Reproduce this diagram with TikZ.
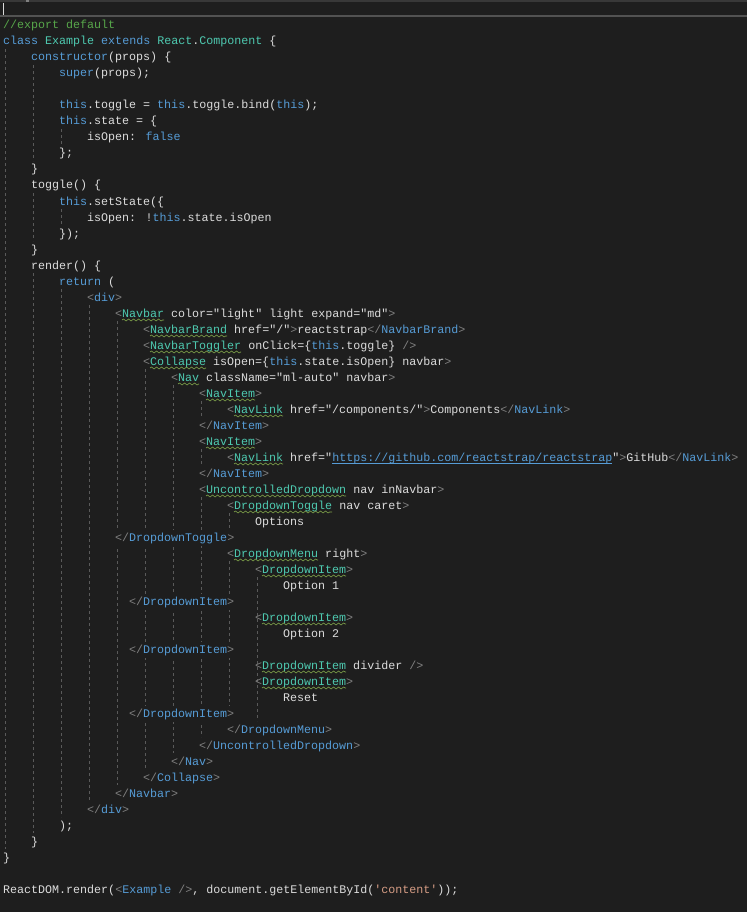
\documentclass[tikz,border=0pt]{standalone}
\usepackage{fontspec}
\newfontfamily\code{Liberation Mono}
\usetikzlibrary{decorations.pathmorphing}
\definecolor{bg}{HTML}{1E1E1E}
\definecolor{fgc}{HTML}{DCDCDC}
\definecolor{kw}{HTML}{569CD6}
\definecolor{ty}{HTML}{4EC9B0}
\definecolor{cm}{HTML}{57A64A}
\definecolor{pu}{HTML}{808080}
\definecolor{st}{HTML}{D69D85}
\definecolor{guide}{HTML}{5A5A5A}
\definecolor{sqc}{HTML}{7FA34A}
\newcommand\K[1]{\textcolor{kw}{#1}}
\newcommand\T[1]{\textcolor{ty}{#1}}
\newcommand\G[1]{\textcolor{pu}{#1}}
\newcommand\Cm[1]{\textcolor{cm}{#1}}
\newcommand\Sq[1]{\textcolor{st}{#1}}
\tikzset{codetext/.style={anchor=base west,inner sep=0pt,text=fgc,font=\code\fontsize{11.67}{16}\selectfont},
 hid/.style={fill=bg,inner ysep=3pt,inner xsep=0pt},
 guideline/.style={draw=guide,line width=0.8pt,dash pattern=on 3pt off 3pt},
 squig/.style={draw=sqc,line width=0.6pt,decorate,decoration={snake,amplitude=1pt,segment length=5pt}}}
\newcommand\cl[5][]{\node[codetext,#1] (#2) at ({3+7*#4},{-29-16*(#3-1)}) {#5};}
\newcommand\sqg[3]{\draw[squig] ({3+7*#2},{-32-16*(#1-1)}) -- ({3+7*(#2+#3)},{-32-16*(#1-1)});}
\newcommand\gd[3]{\draw[guideline] ({5+28*#1},{-17-16*(#2-1)}) -- ({5+28*#1},{-17-16*#3});}
\begin{document}
\begin{tikzpicture}[x=1pt,y=1pt]
\useasboundingbox (0,0) rectangle (747,-912);
\fill[bg] (0,0) rectangle (747,-912);
\fill[black!78] (0,0) rectangle (747,-2.5);
\fill[black!68] (0,-15.5) rectangle (747,-17.5);
\fill[black!50] (26,0) rectangle (29,-2.5);
\draw[white!85!black,line width=0.8pt] (3,-3) -- (3,-15);
% guides
\gd{0}{3}{52}
\gd{1}{4}{9}\gd{1}{12}{14}\gd{1}{17}{51}
\gd{2}{8}{8}\gd{2}{13}{13}\gd{2}{18}{50}
\gd{3}{19}{49}
\gd{4}{20}{48}
\gd{5}{23}{47}
\gd{6}{24}{46}
\gd{7}{25}{25}\gd{7}{28}{28}\gd{7}{31}{45}
\gd{8}{32}{33}\gd{8}{35}{44}
\gd{9}{36}{44}
% code
\cl{l1}{1}{0}{\Cm{//export default}}
\cl{l2}{2}{0}{\K{class} \T{Example} \K{extends} \T{React}.\T{Component} \{}
\cl{l3}{3}{4}{\K{constructor}(props) \{}
\cl{l4}{4}{8}{\K{super}(props);}
\cl{l6}{6}{8}{\K{this}.toggle = \K{this}.toggle.bind(\K{this});}
\cl{l7}{7}{8}{\K{this}.state = \{}
\cl{l8}{8}{12}{isOpen: \K{false}}
\cl{l9}{9}{8}{\};}
\cl{l10}{10}{4}{\}}
\cl{l11}{11}{4}{toggle() \{}
\cl{l12}{12}{8}{\K{this}.setState(\{}
\cl{l13}{13}{12}{isOpen: !\K{this}.state.isOpen}
\cl{l14}{14}{8}{\});}
\cl{l15}{15}{4}{\}}
\cl{l16}{16}{4}{render() \{}
\cl{l17}{17}{8}{\K{return} (}
\cl{l18}{18}{12}{\G{<}\K{div}\G{>}}
\cl{l19}{19}{16}{\G{<}\T{Navbar} color="light" light expand="md"\G{>}}
\cl{l20}{20}{20}{\G{<}\T{NavbarBrand} href="/"\G{>}reactstrap\G{</}\K{NavbarBrand}\G{>}}
\cl{l21}{21}{20}{\G{<}\T{NavbarToggler} onClick=\{\K{this}.toggle\} \G{/>}}
\cl{l22}{22}{20}{\G{<}\T{Collapse} isOpen=\{\K{this}.state.isOpen\} navbar\G{>}}
\cl{l23}{23}{24}{\G{<}\T{Nav} className="ml-auto" navbar\G{>}}
\cl{l24}{24}{28}{\G{<}\T{NavItem}\G{>}}
\cl{l25}{25}{32}{\G{<}\T{NavLink} href="/components/"\G{>}Components\G{</}\K{NavLink}\G{>}}
\cl{l26}{26}{28}{\G{</}\K{NavItem}\G{>}}
\cl{l27}{27}{28}{\G{<}\T{NavItem}\G{>}}
\cl{l28}{28}{32}{\G{<}\T{NavLink} href="\K{https://github.com/reactstrap/reactstrap}"\G{>}GitHub\G{</}\K{NavLink}\G{>}}
\cl{l29}{29}{28}{\G{</}\K{NavItem}\G{>}}
\cl{l30}{30}{28}{\G{<}\T{UncontrolledDropdown} nav inNavbar\G{>}}
\cl{l31}{31}{32}{\G{<}\T{DropdownToggle} nav caret\G{>}}
\cl{l32}{32}{36}{Options}
\cl[hid]{l33}{33}{16}{\G{</}\K{DropdownToggle}\G{>}}
\cl{l34}{34}{32}{\G{<}\T{DropdownMenu} right\G{>}}
\cl{l35}{35}{36}{\G{<}\T{DropdownItem}\G{>}}
\cl{l36}{36}{40}{Option 1}
\cl[hid]{l37}{37}{18}{\G{</}\K{DropdownItem}\G{>}}
\cl{l38}{38}{36}{\G{<}\T{DropdownItem}\G{>}}
\cl{l39}{39}{40}{Option 2}
\cl[hid]{l40}{40}{18}{\G{</}\K{DropdownItem}\G{>}}
\cl{l41}{41}{36}{\G{<}\T{DropdownItem} divider \G{/>}}
\cl{l42}{42}{36}{\G{<}\T{DropdownItem}\G{>}}
\cl{l43}{43}{40}{Reset}
\cl[hid]{l44}{44}{18}{\G{</}\K{DropdownItem}\G{>}}
\cl{l45}{45}{32}{\G{</}\K{DropdownMenu}\G{>}}
\cl{l46}{46}{28}{\G{</}\K{UncontrolledDropdown}\G{>}}
\cl{l47}{47}{24}{\G{</}\K{Nav}\G{>}}
\cl{l48}{48}{20}{\G{</}\K{Collapse}\G{>}}
\cl{l49}{49}{16}{\G{</}\K{Navbar}\G{>}}
\cl{l50}{50}{12}{\G{</}\K{div}\G{>}}
\cl{l51}{51}{8}{);}
\cl{l52}{52}{4}{\}}
\cl{l53}{53}{0}{\}}
\cl{l55}{55}{0}{ReactDOM.render(\G{<}\K{Example} \G{/>}, document.getElementById(\Sq{\symbol{39}content\symbol{39}}));}
% squiggles
\sqg{19}{17}{6}\sqg{20}{21}{11}\sqg{21}{21}{13}\sqg{22}{21}{8}\sqg{23}{25}{3}
\sqg{24}{29}{7}\sqg{25}{33}{7}\sqg{27}{29}{7}\sqg{28}{33}{7}\sqg{30}{29}{20}
\sqg{31}{33}{14}\sqg{34}{33}{12}\sqg{35}{37}{12}\sqg{38}{37}{12}\sqg{41}{37}{12}\sqg{42}{37}{12}
% url underline
\draw[kw,line width=0.6pt] ({3+7*47},{-29-16*27-2}) -- ({3+7*87},{-29-16*27-2});
\end{tikzpicture}
\end{document}
